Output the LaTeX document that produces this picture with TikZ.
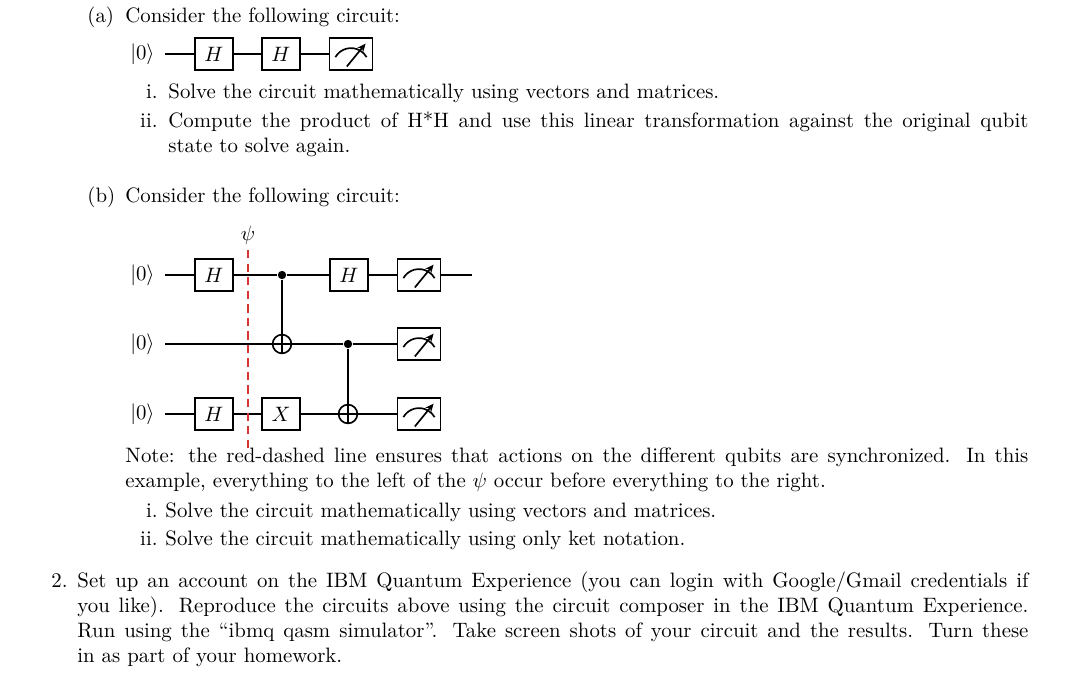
\documentclass[tikz,border=0pt]{standalone}
\usetikzlibrary{arrows.meta}
\begin{document}
\begin{tikzpicture}[x=0.48pt,y=-0.48pt,
  gate/.style={draw,thick,fill=white,minimum width=18.2pt,minimum height=15.4pt,inner sep=0pt},
  meter/.style={draw,thick,fill=white,minimum width=20.6pt,minimum height=15.4pt,inner sep=0pt},
  txt/.style={anchor=base west,inner sep=0pt},
  lab/.style={anchor=base east,inner sep=0pt},
  ket/.style={anchor=east,inner sep=0pt},
  ctrl/.style={circle,fill=black,inner sep=0pt,minimum size=4pt},
  targ/.style={circle,draw,thick,inner sep=0pt,minimum size=9pt},
  wire/.style={thick}]
\useasboundingbox (0,0) rectangle (1080,690);
\newcommand{\meas}[1]{\draw[thick] ([xshift=-7.5pt,yshift=-1.5pt]#1.center) arc[start angle=150,end angle=30,radius=8.66pt];
  \draw[thick,-{Stealth[length=4pt,width=3.5pt]}] ([xshift=-2pt,yshift=-6pt]#1.center) -- ([xshift=7pt,yshift=5pt]#1.center);}
% (a)
\node[txt] (la) at (87,22) {(a)};
\node[txt] (ta) at (125,22) {Consider the following circuit:};
\node[ket] (k0) at (155,54) {$|0\rangle$};
\coordinate (w0) at (165,54);
\node[gate] (ha1) at (214,54) {$H$};
\node[gate] (ha2) at (281,54) {$H$};
\node[meter] (ma) at (351,54) {};
\meas{ma}
\draw[wire] (w0) -- (ha1) -- (ha2) -- (ma);
\node[lab] at (158,98) {i.};
\node[txt] at (168,98) {Solve the circuit mathematically using vectors and matrices.};
\node[lab] at (158,127) {ii.};
\node[txt] at (168,127) {\makebox[412.8pt][s]{Compute the product of H*H and use this linear transformation against the original qubit}};
\node[txt] at (168,152) {state to solve again.};
% (b)
\node[txt] (lb) at (87,202) {(b)};
\node[txt] (tb) at (125,202) {Consider the following circuit:};
\node (psi) at (248,235) {$\psi$};
\node[ket] (q1) at (155,275) {$|0\rangle$};
\node[ket] (q2) at (155,344) {$|0\rangle$};
\node[ket] (q3) at (155,414) {$|0\rangle$};
\coordinate (s1) at (165,275);
\coordinate (s2) at (165,344);
\coordinate (s3) at (165,414);
\coordinate (e1) at (472,275);
\node[gate] (h1) at (214,275) {$H$};
\node[gate] (h3) at (214,414) {$H$};
\node[gate] (x3) at (281,414) {$X$};
\node[gate] (h1b) at (349,275) {$H$};
\node[ctrl] (c1) at (282,275) {};
\node[targ] (t1) at (282,344) {};
\node[ctrl] (c2) at (348,344) {};
\node[targ] (t2) at (348,414) {};
\node[meter] (m1) at (419,275) {};
\node[meter] (m2) at (419,344) {};
\node[meter] (m3) at (419,414) {};
\draw[wire] (s1) -- (h1) -- (c1) -- (h1b) -- (m1) -- (e1);
\draw[wire] (s2) -- (t1.west) (t1.east) -- (c2) -- (m2);
\draw[wire] (s3) -- (h3) -- (x3) -- (t2.west) (t2.east) -- (m3);
\draw[wire] (c1) -- (t1.south);
\draw[wire] (c2) -- (t2.south);
\draw[wire] (t1.west) -- (t1.east) (t2.west) -- (t2.east);
\meas{m1}\meas{m2}\meas{m3}
\coordinate (d1) at (248,250);
\coordinate (d2) at (248,448);
\draw[red!80!black!80,thick,dash pattern=on 4pt off 2.5pt] (d1) -- (d2);
\node[txt] at (125,462) {\makebox[433.4pt][s]{Note: the red-dashed line ensures that actions on the different qubits are synchronized. In this}};
\node[txt] at (125,487) {example, everything to the left of the $\psi$ occur before everything to the right.};
\node[lab] at (158,517) {i.};
\node[txt] at (165,517) {Solve the circuit mathematically using vectors and matrices.};
\node[lab] at (158,545) {ii.};
\node[txt] at (165,545) {Solve the circuit mathematically using only ket notation.};
% 2.
\node[lab] at (68,587) {2.};
\node[txt] at (77,587) {\makebox[456.5pt][s]{Set up an account on the IBM Quantum Experience (you can login with Google/Gmail credentials if}};
\node[txt] at (77,612) {\makebox[456.5pt][s]{you like). Reproduce the circuits above using the circuit composer in the IBM Quantum Experience.}};
\node[txt] at (77,637) {\makebox[456.5pt][s]{Run using the ``ibmq qasm simulator''. Take screen shots of your circuit and the results. Turn these}};
\node[txt] at (77,662) {in as part of your homework.};
\end{tikzpicture}
\end{document}
